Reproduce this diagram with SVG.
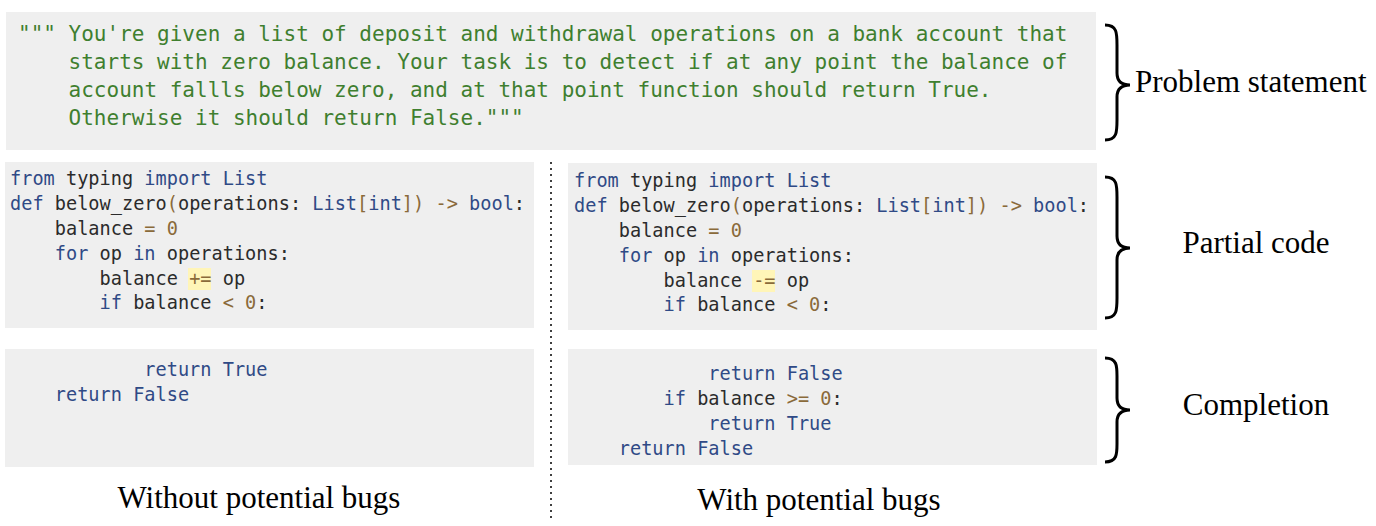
<svg xmlns="http://www.w3.org/2000/svg" width="1376" height="526" viewBox="0 0 1376 526">
<style>
.box{fill:#efefef}
.code{font-family:"DejaVu Sans Mono","Liberation Mono",monospace;font-size:18.6px;fill:#2b2b2b;white-space:pre}
.doc{font-family:"DejaVu Sans Mono","Liberation Mono",monospace;font-size:21px;fill:#3f7f2f;white-space:pre}
.k{fill:#2f4a86}
.o{fill:#8a6a3a}
.lbl{font-family:"Liberation Serif","Times New Roman",serif;font-size:31px;fill:#000}
.brace{fill:none;stroke:#000;stroke-width:3}
</style>
<g id="problem">
<rect class="box" x="6" y="12" width="1090" height="138"/>
<text class="doc" x="18" y="41">""" You're given a list of deposit and withdrawal operations on a bank account that</text>
<text class="doc" x="18" y="69">    starts with zero balance. Your task is to detect if at any point the balance of</text>
<text class="doc" x="18" y="97">    account fallls below zero, and at that point function should return True.</text>
<text class="doc" x="18" y="125">    Otherwise it should return False."""</text>
</g>
<g id="left-partial">
<rect class="box" x="5" y="162" width="529" height="166"/>
<rect x="188" y="268" width="23" height="22" fill="#fff5b8"/>
<text class="code" x="10" y="185"><tspan class="k">from</tspan> typing <tspan class="k">import</tspan> <tspan class="k">List</tspan></text>
<text class="code" x="10" y="210"><tspan class="k">def</tspan> below_zero<tspan class="o">(</tspan>operations: <tspan class="k">List</tspan><tspan class="o">[</tspan><tspan class="k">int</tspan><tspan class="o">])</tspan> <tspan class="o">-&gt;</tspan> <tspan class="k">bool</tspan>:</text>
<text class="code" x="10" y="235">    balance <tspan class="o">=</tspan> <tspan class="o">0</tspan></text>
<text class="code" x="10" y="260">    <tspan class="k">for</tspan> op <tspan class="k">in</tspan> operations:</text>
<text class="code" x="10" y="285">        balance <tspan class="o">+=</tspan> op</text>
<text class="code" x="10" y="309">        <tspan class="k">if</tspan> balance <tspan class="o">&lt;</tspan> <tspan class="o">0</tspan>:</text>
</g>
<g id="left-completion">
<rect class="box" x="5" y="349" width="529" height="118"/>
<text class="code" x="10" y="376">            <tspan class="k">return</tspan> <tspan class="k">True</tspan></text>
<text class="code" x="10" y="401">    <tspan class="k">return</tspan> <tspan class="k">False</tspan></text>
</g>
<g id="right-partial">
<rect class="box" x="568" y="163" width="529" height="167"/>
<rect x="752" y="270" width="23" height="22" fill="#fff5b8"/>
<text class="code" x="574" y="187"><tspan class="k">from</tspan> typing <tspan class="k">import</tspan> <tspan class="k">List</tspan></text>
<text class="code" x="574" y="212"><tspan class="k">def</tspan> below_zero<tspan class="o">(</tspan>operations: <tspan class="k">List</tspan><tspan class="o">[</tspan><tspan class="k">int</tspan><tspan class="o">])</tspan> <tspan class="o">-&gt;</tspan> <tspan class="k">bool</tspan>:</text>
<text class="code" x="574" y="237">    balance <tspan class="o">=</tspan> <tspan class="o">0</tspan></text>
<text class="code" x="574" y="262">    <tspan class="k">for</tspan> op <tspan class="k">in</tspan> operations:</text>
<text class="code" x="574" y="287">        balance <tspan class="o">-=</tspan> op</text>
<text class="code" x="574" y="311">        <tspan class="k">if</tspan> balance <tspan class="o">&lt;</tspan> <tspan class="o">0</tspan>:</text>
</g>
<g id="right-completion">
<rect class="box" x="568" y="349" width="529" height="116"/>
<text class="code" x="574" y="380">            <tspan class="k">return</tspan> <tspan class="k">False</tspan></text>
<text class="code" x="574" y="405">        <tspan class="k">if</tspan> balance <tspan class="o">&gt;=</tspan> <tspan class="o">0</tspan>:</text>
<text class="code" x="574" y="430">            <tspan class="k">return</tspan> <tspan class="k">True</tspan></text>
<text class="code" x="574" y="455">    <tspan class="k">return</tspan> <tspan class="k">False</tspan></text>
</g>
<g id="connectors">
<line x1="551" y1="162" x2="551" y2="518" stroke="#000" stroke-width="1.5" stroke-dasharray="2,4"/>
<path class="brace" d="M1105,25 C1117,25 1117,33 1117,45 L1117,73 C1117,81 1121,85 1130,85 C1121,85 1117,89 1117,97 L1117,120 C1117,132 1117,140 1105,140"/>
<path class="brace" d="M1105,177 C1117,177 1117,185 1117,197 L1117,236 C1117,244 1121,248 1130,248 C1121,248 1117,252 1117,260 L1117,298 C1117,310 1117,318 1105,318"/>
<path class="brace" d="M1105,358 C1117,358 1117,366 1117,376 L1117,398 C1117,406 1121,410 1130,410 C1121,410 1117,414 1117,422 L1117,444 C1117,454 1117,462 1105,462"/>
</g>
<g id="labels">
<text class="lbl" x="1135" y="92">Problem statement</text>
<text class="lbl" x="1256" y="253" text-anchor="middle">Partial code</text>
<text class="lbl" x="1256" y="415" text-anchor="middle">Completion</text>
<text class="lbl" x="259" y="508" text-anchor="middle">Without potential bugs</text>
<text class="lbl" x="819" y="510" text-anchor="middle">With potential bugs</text>
</g>
</svg>
